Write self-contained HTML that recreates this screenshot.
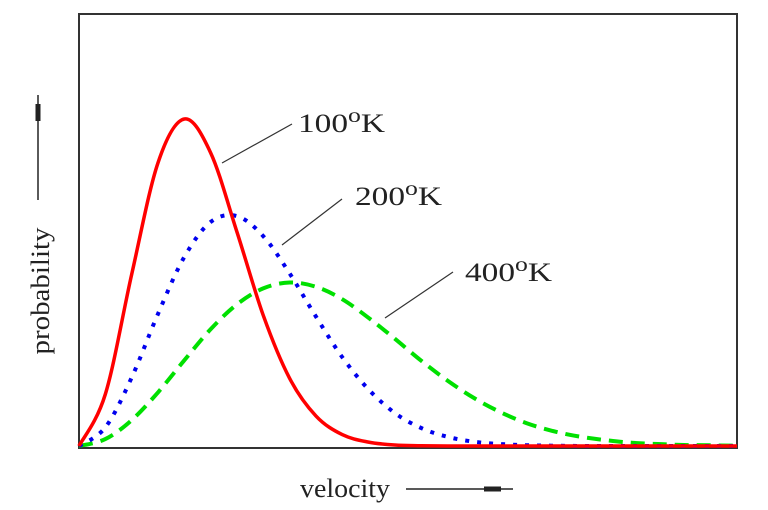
<!DOCTYPE html>
<html><head><meta charset="utf-8"><style>
html,body{margin:0;padding:0;background:#fff;}
svg{display:block;font-family:"Liberation Serif",serif;}
</style></head><body>
<svg id="chart" width="768" height="510" viewBox="0 0 768 510" xmlns="http://www.w3.org/2000/svg">
<rect x="79" y="14" width="658" height="434" fill="#fff" stroke="#333" stroke-width="2"/>
<g id="series"></g>
<g>
<line x1="222" y1="163" x2="292" y2="124" stroke="#333" stroke-width="1.2"/>
<text x="298" y="132" font-size="26" fill="#222" textLength="87" lengthAdjust="spacingAndGlyphs">100<tspan font-size="20" dy="-10">o</tspan><tspan dy="10">K</tspan></text>
</g>
<g>
<line x1="282" y1="245" x2="342" y2="199" stroke="#333" stroke-width="1.2"/>
<text x="355" y="205" font-size="26" fill="#222" textLength="87" lengthAdjust="spacingAndGlyphs">200<tspan font-size="20" dy="-10">o</tspan><tspan dy="10">K</tspan></text>
</g>
<g>
<line x1="385" y1="318" x2="453" y2="272" stroke="#333" stroke-width="1.2"/>
<text x="465" y="281" font-size="26" fill="#222" textLength="87" lengthAdjust="spacingAndGlyphs">400<tspan font-size="20" dy="-10">o</tspan><tspan dy="10">K</tspan></text>
</g>
<text transform="translate(49,291) rotate(-90)" text-anchor="middle" font-size="26" fill="#222" textLength="127" lengthAdjust="spacingAndGlyphs">probability</text>
<g>
<line x1="38" y1="200" x2="38" y2="95" stroke="#222" stroke-width="1.5"/>
<rect x="35.5" y="104" width="5" height="17" fill="#222"/>
</g>
<text x="300" y="497" font-size="26" fill="#222" textLength="90" lengthAdjust="spacingAndGlyphs">velocity</text>
<g>
<line x1="406" y1="489" x2="513" y2="489" stroke="#222" stroke-width="1.5"/>
<rect x="484" y="486.5" width="17" height="5" fill="#222"/>
</g>
</svg>
<script>
const velocity = [0,4,8,12,16,20,24,28,32,36,40,44,48,52,56,60,64,68,72,76,80,84,88,92,96,100];
const prob100K = [0,15.8,52.4,86.6,100,89.7,65.5,40,20.7,9.2,3.5,1.2,0.3,0.1,0,0,0,0,0,0,0,0,0,0,0,0];
const prob200K = [0,5.7,20.9,40.4,57.8,68.5,70.3,64.2,52.8,39.6,27.2,17.3,10.1,5.5,2.8,1.3,0.6,0.25,0.1,0,0,0,0,0,0,0];
const prob400K = [0,2.1,7.9,16.4,26.2,35.7,43.3,48.2,50,48.7,44.9,39.2,32.8,26.1,20,14.7,10.4,7,4.6,2.9,1.8,1,0.6,0.3,0.2,0.1];
const xScale = v => 79 + v/100*658;
const yScale = p => 446 - p*3.27;
function pathFor(vals){
  const pts = velocity.map((v,i)=>[xScale(v), yScale(vals[i])]);
  let d = "M"+pts[0][0]+","+pts[0][1];
  for(let i=0;i<pts.length-1;i++){
    const p0=pts[Math.max(0,i-1)], p1=pts[i], p2=pts[i+1], p3=pts[Math.min(pts.length-1,i+2)];
    const c1=[p1[0]+(p2[0]-p0[0])/6, p1[1]+(p2[1]-p0[1])/6];
    const c2=[p2[0]-(p3[0]-p1[0])/6, p2[1]-(p3[1]-p1[1])/6];
    d += " C"+c1[0].toFixed(1)+","+c1[1].toFixed(1)+" "+c2[0].toFixed(1)+","+c2[1].toFixed(1)+" "+p2[0].toFixed(1)+","+p2[1].toFixed(1);
  }
  return d;
}
const g = document.getElementById('series');
const ns = "http://www.w3.org/2000/svg";
const p400 = document.createElementNS(ns,'path');
p400.setAttribute('d', pathFor(prob400K));
p400.setAttribute('fill','none'); p400.setAttribute('stroke','#00e000'); p400.setAttribute('stroke-width','4'); p400.setAttribute('stroke-dasharray','14 8');


g.appendChild(p400);
const p200 = document.createElementNS(ns,'path');
p200.setAttribute('d', pathFor(prob200K));
p200.setAttribute('fill','none'); p200.setAttribute('stroke','#0000ee'); p200.setAttribute('stroke-width','4'); p200.setAttribute('stroke-dasharray','4 8');


g.appendChild(p200);
const p100 = document.createElementNS(ns,'path');
p100.setAttribute('d', pathFor(prob100K));
p100.setAttribute('fill','none'); p100.setAttribute('stroke','#ff0000'); p100.setAttribute('stroke-width','3.5');


g.appendChild(p100);
</script>
</body></html>
